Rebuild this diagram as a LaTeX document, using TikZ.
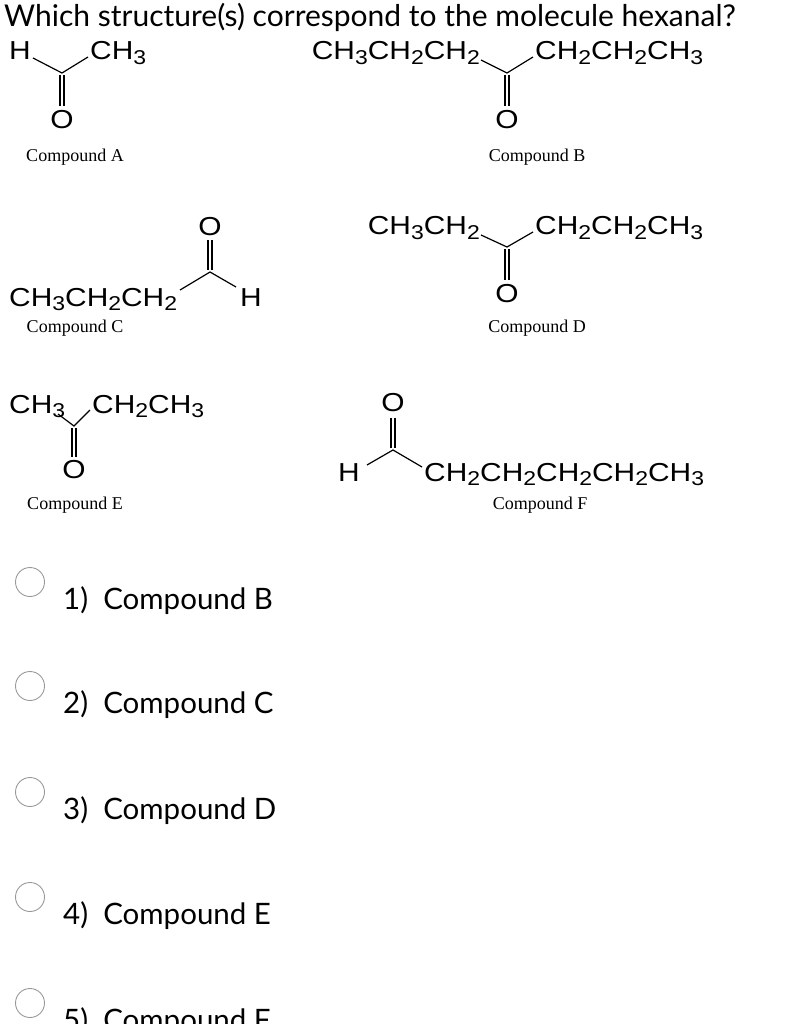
\documentclass[tikz,border=0pt]{standalone}
\usepackage{fontspec}
\usepackage{graphicx}
\setmainfont{Lato}
\newfontfamily\chemf{Liberation Sans}
\newfontfamily\capf{Liberation Serif}
\newcommand\lo[1]{\raisebox{-0.35ex}{\fontsize{20}{20}\selectfont #1}}
\newcommand\wide[1]{\scalebox{1.15}[1]{#1}}
\begin{document}
\begin{tikzpicture}[x=1pt,y=-1pt,
  ch/.style={inner sep=0pt,font=\chemf\fontsize{26}{26}\selectfont},
  cmpcap/.style={inner sep=0pt,font=\capf\fontsize{18}{18}\selectfont},
  opt/.style={anchor=base west,inner sep=0pt,font=\fontsize{29.5}{29.5}\selectfont},
  radio/.style={draw=gray!80,line width=0.9pt,circle,minimum size=29pt,inner sep=0pt},
  bd/.style={line width=1.2pt}]
\useasboundingbox (0,0) rectangle (784,1024);
\node[anchor=base west,inner sep=0pt,font=\fontsize{30}{30}\selectfont] (title) at (4,27) {Which structure(s) correspond to the molecule hexanal?};
% A
\node[ch,anchor=base west] (aH) at (9,60) {\wide{H}};
\node[ch,anchor=base west] (aR) at (90,60) {\wide{CH\lo{3}}};
\coordinate (aC) at (62,73);
\node[ch] (aO) at (62,120) {\wide{O}};
\draw[bd] (33,58) -- (aC) -- (88,57);
\draw[bd] (60,75) -- (60,106) (64,75) -- (64,106);
\node[cmpcap] (capA) at (75,157) {Compound A};
% B
\node[ch,anchor=base east] (bL) at (480,60) {\wide{CH\lo{3}CH\lo{2}CH\lo{2}}};
\node[ch,anchor=base west] (bR) at (535,60) {\wide{CH\lo{2}CH\lo{2}CH\lo{3}}};
\coordinate (bC) at (507,73);
\node[ch] (bO) at (507,120) {\wide{O}};
\draw[bd] (481,60) -- (bC) -- (533,57);
\draw[bd] (505,75) -- (505,106) (509,75) -- (509,106);
\node[cmpcap] (capB) at (537,157) {Compound B};
% C
\node[ch,anchor=base west] (cL) at (9,306) {\wide{CH\lo{3}CH\lo{2}CH\lo{2}}};
\node[ch,anchor=base west] (cH) at (240,306) {\wide{H}};
\coordinate (cC) at (210,272);
\node[ch] (cO) at (210,227) {\wide{O}};
\draw[bd] (180,290) -- (cC) -- (236,287);
\draw[bd] (208,270) -- (208,240) (212,270) -- (212,240);
\node[cmpcap] (capC) at (75,328) {Compound C};
% D
\node[ch,anchor=base east] (dL) at (480,235) {\wide{CH\lo{3}CH\lo{2}}};
\node[ch,anchor=base west] (dR) at (535,235) {\wide{CH\lo{2}CH\lo{2}CH\lo{3}}};
\coordinate (dC) at (507,247);
\node[ch] (dO) at (507,294) {\wide{O}};
\draw[bd] (481,235) -- (dC) -- (533,232);
\draw[bd] (505,249) -- (505,280) (509,249) -- (509,280);
\node[cmpcap] (capD) at (537,328) {Compound D};
% E
\node[ch,anchor=base west] (eL) at (9,413) {\wide{CH\lo{3}}};
\node[ch,anchor=base west] (eR) at (92,413) {\wide{CH\lo{2}CH\lo{3}}};
\coordinate (eC) at (74,426);
\node[ch] (eO) at (74,470) {\wide{O}};
\draw[bd] (58,414) -- (eC) -- (90,410);
\draw[bd] (72,428) -- (72,457) (76,428) -- (76,457);
\node[cmpcap] (capE) at (75,505) {Compound E};
% F
\node[ch,anchor=base west] (fH) at (338,481) {\wide{H}};
\node[ch,anchor=base west] (fR) at (424,481) {\wide{CH\lo{2}CH\lo{2}CH\lo{2}CH\lo{2}CH\lo{3}}};
\coordinate (fC) at (393,450);
\node[ch] (fO) at (393,403) {\wide{O}};
\draw[bd] (367,465) -- (fC) -- (422,467);
\draw[bd] (391,448) -- (391,418) (395,448) -- (395,418);
\node[cmpcap] (capF) at (540,505) {Compound F};
% options
\foreach \i/\y/\t in {1/582/B,2/686/C,3/792/D,4/897/E,5/1003/F}{
  \node[radio] (r\i) at (30,\y) {};
  \node[opt] (o\i) at (63,\y+27) {\i)\ \ Compound \t};
}
\end{tikzpicture}
\end{document}
